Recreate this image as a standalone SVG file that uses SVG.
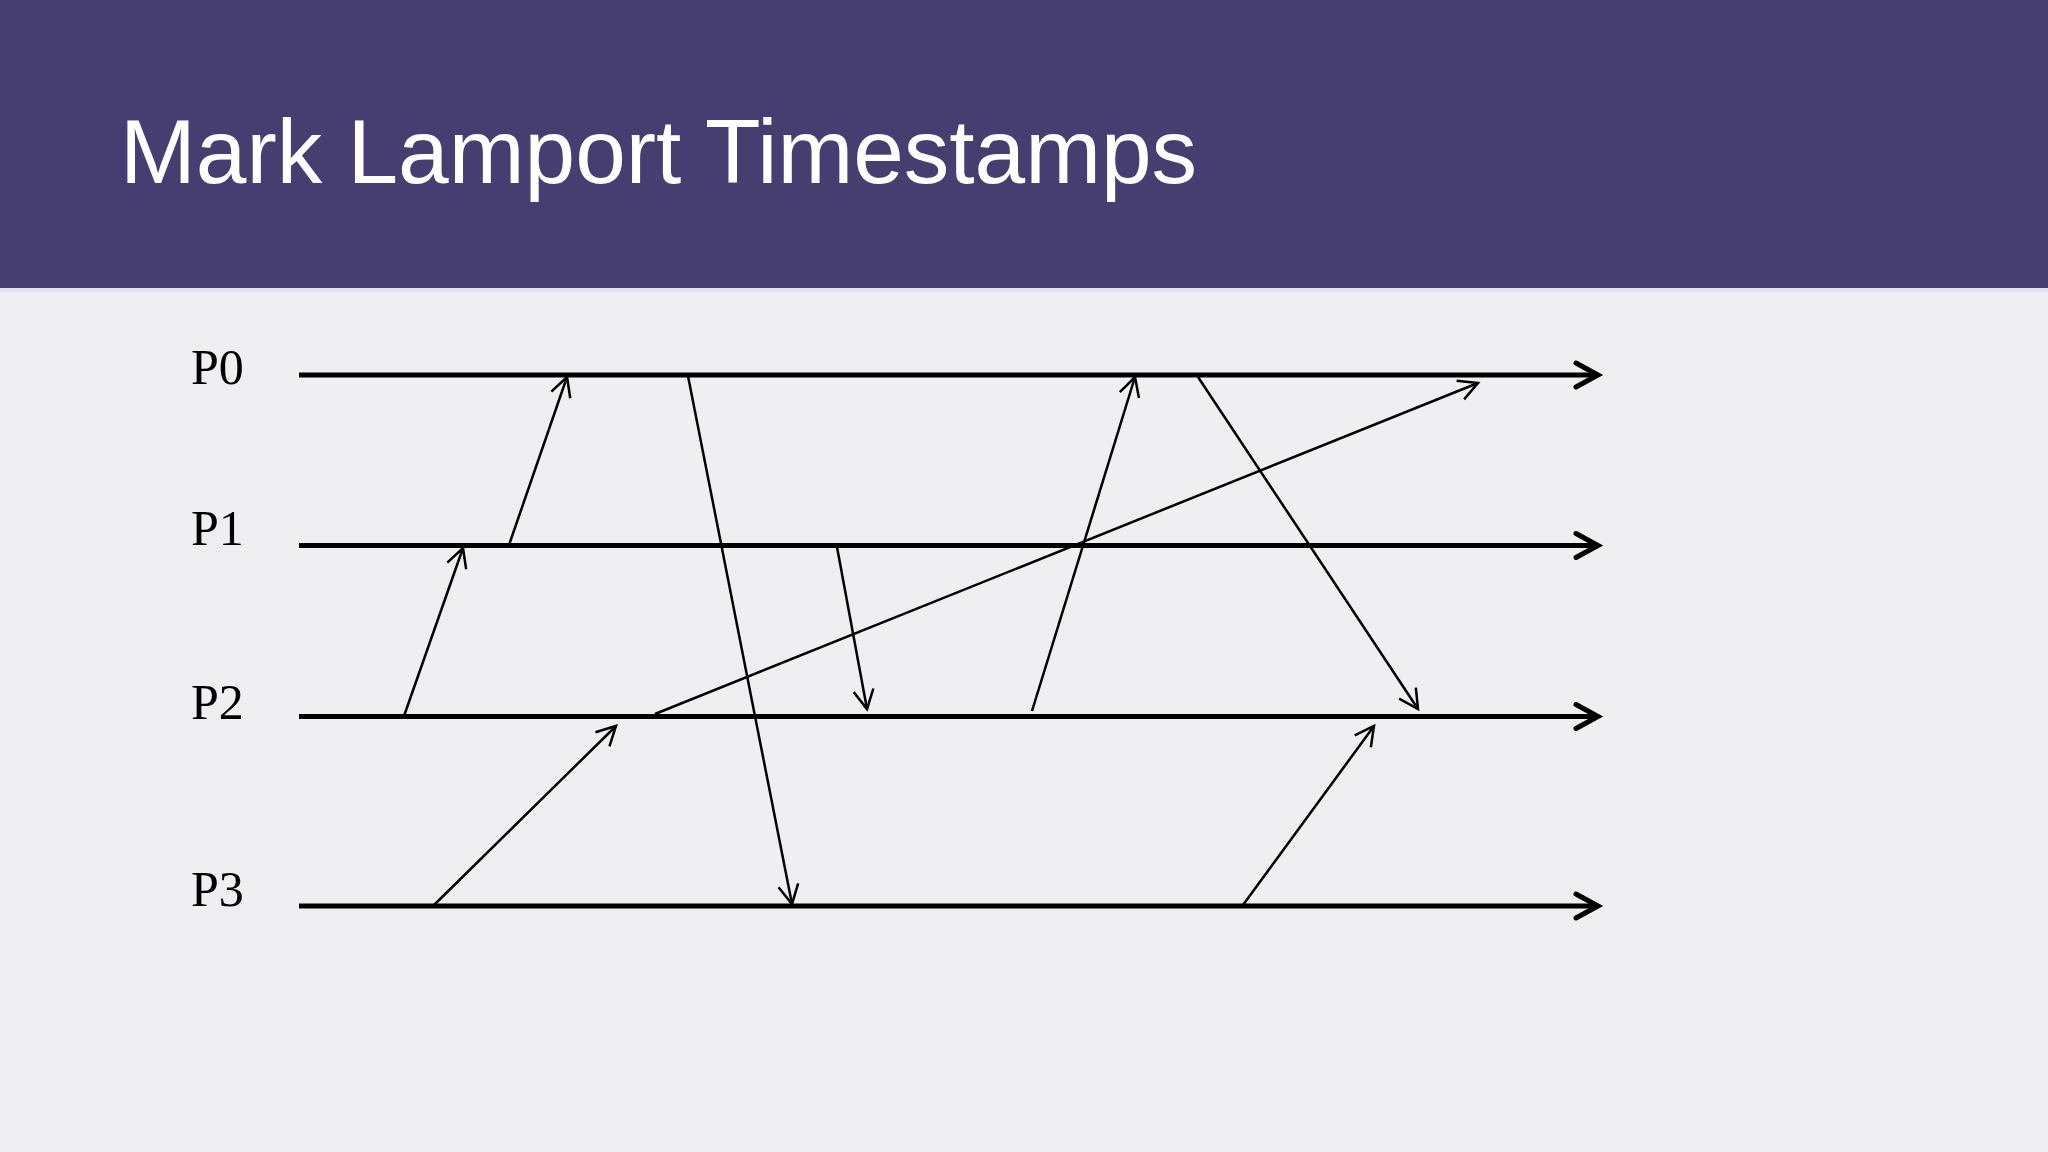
<svg xmlns="http://www.w3.org/2000/svg" width="2048" height="1152" viewBox="0 0 2048 1152">
<style>
.title{font-family:"Liberation Sans",Arial,sans-serif;font-size:91px;fill:#ffffff}
.plabel{font-family:"Liberation Serif","Times New Roman",serif;font-size:50px;fill:#000000}
.axis{stroke:#000;stroke-width:5;fill:none}
.axhead{stroke:#000;stroke-width:5;fill:none;stroke-linecap:round;stroke-linejoin:miter}
.msg{stroke:#000;stroke-width:2.5;fill:none;marker-end:url(#open)}
</style>
<defs>
<marker id="open" markerUnits="userSpaceOnUse" viewBox="-22 -12 24 24" refX="0" refY="0" markerWidth="24" markerHeight="24" orient="auto" overflow="visible">
<path d="M-19,-10 L0,0 L-19,10" fill="none" stroke="#000" stroke-width="2.5"/>
</marker>
</defs>
<rect x="0" y="0" width="2048" height="1152" fill="#EFEEF1"/>
<g id="header">
<rect x="0" y="0" width="2048" height="288" fill="#463E70"/>
<rect x="0" y="288" width="2048" height="4" fill="#E3E2EF"/>
<text class="title" x="120" y="183">Mark Lamport Timestamps</text>
</g>
<g id="P0">
<text class="plabel" x="191" y="384">P0</text>
<line class="axis" x1="299" y1="375" x2="1594" y2="375"/>
<path class="axhead" d="M1576,363 L1598,375 L1576,387"/>
</g>
<g id="P1">
<text class="plabel" x="191" y="545">P1</text>
<line class="axis" x1="299" y1="545.5" x2="1594" y2="545.5"/>
<path class="axhead" d="M1576,533.5 L1598,545.5 L1576,557.5"/>
</g>
<g id="P2">
<text class="plabel" x="191" y="719">P2</text>
<line class="axis" x1="299" y1="716.5" x2="1594" y2="716.5"/>
<path class="axhead" d="M1576,704.5 L1598,716.5 L1576,728.5"/>
</g>
<g id="P3">
<text class="plabel" x="191" y="906">P3</text>
<line class="axis" x1="299" y1="906" x2="1594" y2="906"/>
<path class="axhead" d="M1576,894 L1598,906 L1576,918"/>
</g>
<g id="connectors">
<line class="msg" x1="404" y1="716" x2="463" y2="548"/>
<line class="msg" x1="509" y1="545" x2="567" y2="377"/>
<line class="msg" x1="433" y1="906" x2="616" y2="726"/>
<line class="msg" x1="688" y1="376" x2="792" y2="904"/>
<line class="msg" x1="837" y1="547" x2="867" y2="709"/>
<line class="msg" x1="655" y1="714" x2="1478" y2="383"/>
<line class="msg" x1="1032" y1="711" x2="1135" y2="377"/>
<line class="msg" x1="1198" y1="377" x2="1418" y2="709"/>
<line class="msg" x1="1243" y1="905" x2="1374" y2="726"/>
</g>
</svg>
